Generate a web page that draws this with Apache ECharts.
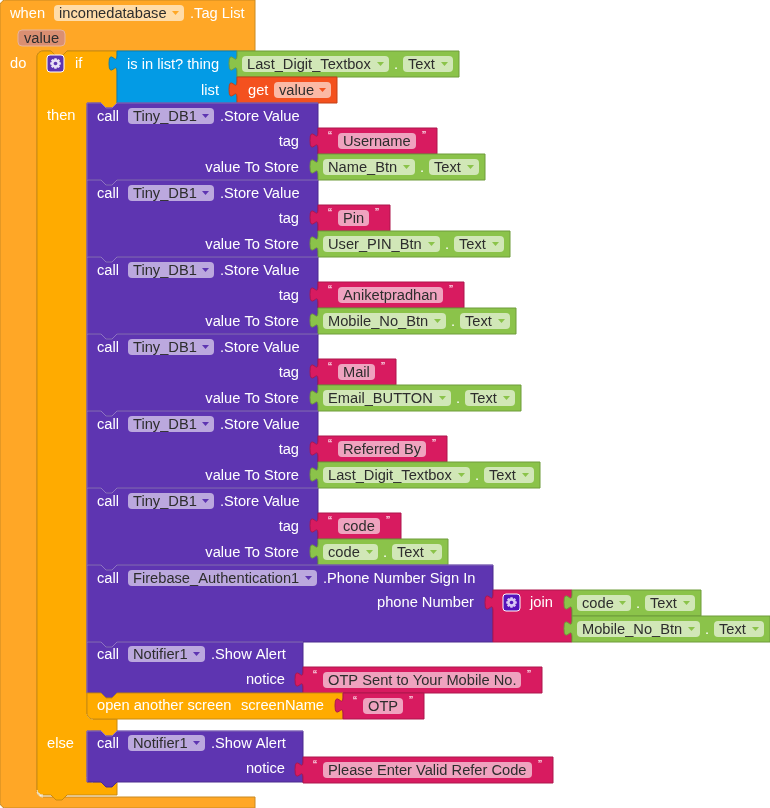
<!DOCTYPE html>
<html>
<head>
  <meta charset="utf-8">
  <title>Blocks</title>
  <style>
html, body { margin: 0; padding: 0; background: #fff; }
#main { width: 770px; height: 808px; }
  </style>
</head>
<body>
  <div id="main"></div>
  <script src="https://cdn.jsdelivr.net/npm/echarts@6/dist/echarts.min.js"></script>
  <script>
  // store value rows, top to bottom
  const storeTags = ['Username', 'Pin', 'Aniketpradhan', 'Mail', 'Referred By', 'code'];
  const storeTagEnds = [437, 390, 464, 396, 447, 401];
  const storeComponents = ['Name_Btn', 'User_PIN_Btn', 'Mobile_No_Btn', 'Email_BUTTON', 'Last_Digit_Textbox', 'code'];
  const storeComponentEnds = [485, 510, 516, 521, 540, 448];
  const storeTops = [103, 180, 257, 334, 411, 488];

  // the other blocks, as [left, top, right, bottom] on the workspace
  const firebaseBox = [87, 565, 493, 642];
  const joinBox = [493, 590, 572, 642];
  const alertBoxes = [[87, 642, 303, 693], [87, 731, 303, 782]];
  const alertTexts = ['OTP Sent to Your Mobile No.', 'Please Enter Valid Refer Code'];
  const alertTextEnds = [542, 553];
  const screenBox = [87, 693, 343, 719];
  const screenText = 'OTP';
  const screenTextEnd = 424;
  const joinParts = ['code', 'Mobile_No_Btn'];
  const joinPartEnds = [701, 770];

  const C = {
    event: '#ffa726', eventDark: '#c98a22', eventChip: '#ffdcA8',
    ctrl: '#ffab00', ctrlDark: '#c98a10', ctrlLight: '#ffd980',
    blue: '#039be5', blueDark: '#0780b8',
    green: '#8bc34a', greenDark: '#6f9c3b', greenChip: '#d1e7b7',
    pink: '#d81b60', pinkDark: '#ad164d', pinkChip: '#efa3bf',
    purple: '#5e35b1', purpleDark: '#4b2a8e', purpleLight: '#9f86d0', purpleChip: '#bba8de',
    get: '#f4511e', getDark: '#c34118', getChip: '#fbb9a5',
    param: '#da8f72', paramEdge: '#e8b49c', ink: '#2d2d2d', white: '#ffffff'
  };

  const marks = [];
  const poly = (points, fill, stroke) => marks.push({ t: 'poly', points, fill, stroke });
  const line = (points, stroke) => marks.push({ t: 'line', points, stroke });
  const box = (x0, y0, x1, y1, r, fill, stroke) => marks.push({ t: 'box', x0, y0, x1, y1, r, fill, stroke });
  const label = (text, x, y, fill, align, size) => marks.push({ t: 'text', text, x, y: y + 1, fill: fill || C.white, align: align || 'left', size: size || 14.67 });

  const arc = (cx, cy, r, a0, a1) => {
    const pts = [];
    for (let i = 0; i <= 6; i++) {
      const a = (a0 + (a1 - a0) * i / 6) * Math.PI / 180;
      pts.push([cx + r * Math.cos(a), cy + r * Math.sin(a)]);
    }
    return pts;
  };
  const bez = (p0, p1, p2, p3) => {
    const pts = [];
    for (let i = 1; i <= 8; i++) {
      const t = i / 8, u = 1 - t;
      pts.push([
        u * u * u * p0[0] + 3 * u * u * t * p1[0] + 3 * u * t * t * p2[0] + t * t * t * p3[0],
        u * u * u * p0[1] + 3 * u * u * t * p1[1] + 3 * u * t * t * p2[1] + t * t * t * p3[1]
      ]);
    }
    return pts;
  };
  // left side puzzle tab, walked from bottom to top
  const tabUp = (x, top) => {
    const y = top + 5;
    return [[x, y + 15]]
      .concat(bez([x, y + 15], [x, y + 5], [x - 8, y + 23], [x - 8, y + 7.5]))
      .concat(bez([x - 8, y + 7.5], [x - 8, y - 8], [x, y + 10], [x, y]));
  };
  const notch = (left, y) => [
    [left + 14, y], [left + 17, y + 3], [left + 19, y + 5], [left + 25, y + 5], [left + 27, y + 3], [left + 30, y]
  ];
  const notchBack = (left, y) => notch(left, y).reverse();

  const valueBlock = (l, t, r, b, fill, stroke) => {
    poly([[l, t], [r, t], [r, b], [l, b]].concat(tabUp(l, t)), fill, stroke);
  };
  const chip = (x0, x1, y, fill, text, arrow) => {
    box(x0, y, x1, y + 16, 4, fill);
    label(text, x0 + 5, y + 8, C.ink);
    if (arrow) {
      poly([[x1 - 12, y + 6], [x1 - 5, y + 6], [x1 - 8.5, y + 10]], arrow);
    }
  };
  const gear = (x, y, bg, fg) => {
    box(x, y, x + 17, y + 17, 3, bg, C.white);
    const cx = x + 8.5, cy = y + 8.5, pts = [];
    for (let i = 0; i < 8; i++) {
      const a = i * 45;
      pts.push(...arc(cx, cy, 5.4, a - 12, a + 12).filter((p, k) => k % 6 === 0));
      pts.push(...arc(cx, cy, 3.9, a + 24, a + 24).slice(0, 1));
    }
    poly(pts, fg);
    poly(arc(cx, cy, 1.8, 0, 180).concat(arc(cx, cy, 1.8, 180, 360)), bg);
  };
  const textBlock = (l, t, r, text) => {
    valueBlock(l, t, r, t + 26, C.pink, C.pinkDark);
    label('\u201c', l + 12, t + 8, C.white, 'center', 12);
    box(l + 20, t + 5, r - 21, t + 21, 4, C.pinkChip);
    label(text, l + 25, t + 13, C.ink);
    label('\u201d', r - 13, t + 8, C.white, 'center', 12);
  };
  const componentBlock = (l, t, r, name) => {
    valueBlock(l, t, r, t + 26, C.green, C.greenDark);
    chip(l + 5, r - 70, t + 5, C.greenChip, name, C.green);
    label('.', r - 63, t + 13, C.white, 'center');
    chip(r - 56, r - 6, t + 5, C.greenChip, 'Text', C.green);
  };
  const statement = (b, fill, stroke, light, dropTab) => {
    const [l, t, r, bot] = b;
    const pts = [[l, t]].concat(notch(l, t), [[r, t], [r, bot]]);
    if (dropTab) pts.push(...notchBack(l, bot));
    pts.push([l, bot]);
    poly(pts, fill, stroke);
    line([[l, bot], [l, t]].concat(notch(l, t), [[r, t]]), light);
  };

  // event block and the if block behind everything else
  poly(
    arc(6, 6, 6, 180, 270).concat(
      [[255, 0], [255, 51]],
      notchBack(37, 51),
      arc(43, 57, 6, 270, 180),
      arc(43, 791, 6, 180, 90),
      [[255, 797], [255, 808]],
      arc(6, 802, 6, 90, 180)
    ), C.event, C.eventDark);
  poly(
    arc(43, 57, 6, 180, 270).concat(
      notch(37, 51),
      [[117, 51], [117, 103]],
      notchBack(87, 103),
      arc(93, 109, 6, 270, 180),
      arc(93, 713, 6, 180, 90),
      [[117, 719], [117, 731]],
      notchBack(87, 731),
      arc(93, 737, 6, 270, 180),
      arc(93, 776, 6, 180, 90),
      [[117, 782], [117, 795]],
      notchBack(37, 795),
      arc(43, 789, 6, 90, 180)
    ), C.ctrl, C.ctrlDark);
  line(arc(93, 713, 6, 170, 90), C.white);
  line(arc(93, 776, 6, 170, 90), C.white);
  line(arc(43, 791, 6, 170, 90), C.white);
  line(arc(43, 789, 6, 170, 90), C.white);

  label('when', 10, 13);
  chip(54, 184, 5, C.eventChip, 'incomedatabase', C.event);
  label('.Tag List', 190, 13);
  box(18, 30, 65, 46, 4, C.param, C.paramEdge);
  label('value', 24, 38, C.ink);
  label('do', 10, 63);
  gear(47, 55, C.purple, '#e9e2f6');
  label('if', 75, 63);
  label('then', 47, 115);
  label('else', 47, 743);

  // if condition
  valueBlock(117, 51, 237, 103, C.blue, C.blueDark);
  label('is in list? thing', 127, 64);
  label('list', 219, 90, C.white, 'right');
  componentBlock(237, 51, 459, 'Last_Digit_Textbox');
  valueBlock(237, 77, 337, 103, C.get, C.getDark);
  label('get', 248, 90);
  chip(274, 331, 82, C.getChip, 'value', C.get);

  // last statement first so the drop tabs sit on the next block's notch
  statement(alertBoxes[1], C.purple, C.purpleDark, C.purpleLight, true);
  label('call', 97, 743);
  chip(128, 205, 735, C.purpleChip, 'Notifier1', C.purple);
  label('.Show Alert', 211, 743);
  label('notice', 285, 768, C.white, 'right');
  textBlock(303, 757, alertTextEnds[1], alertTexts[1]);

  storeTops.forEach((top, i) => {
    statement([87, top, 318, top + 77], C.purple, C.purpleDark, C.purpleLight, true);
    label('call', 97, top + 13);
    chip(128, 214, top + 5, C.purpleChip, 'Tiny_DB1', C.purple);
    label('.Store Value', 220, top + 13);
    label('tag', 299, top + 38, C.white, 'right');
    label('value To Store', 299, top + 64, C.white, 'right');
    textBlock(318, top + 25, storeTagEnds[i], storeTags[i]);
    componentBlock(318, top + 51, storeComponentEnds[i], storeComponents[i]);
  });

  statement(firebaseBox, C.purple, C.purpleDark, C.purpleLight, true);
  label('call', 97, 578);
  chip(128, 317, 570, C.purpleChip, 'Firebase_Authentication1', C.purple);
  label('.Phone Number Sign In', 323, 578);
  label('phone Number', 474, 602, C.white, 'right');
  valueBlock(joinBox[0], joinBox[1], joinBox[2], joinBox[3], C.pink, C.pinkDark);
  gear(503, 594, '#5412bb', '#d9c8f5');
  label('join', 530, 602);
  joinParts.forEach((part, i) => componentBlock(572, 590 + i * 26, joinPartEnds[i], part));

  statement(alertBoxes[0], C.purple, C.purpleDark, C.purpleLight, true);
  label('call', 97, 654);
  chip(128, 205, 646, C.purpleChip, 'Notifier1', C.purple);
  label('.Show Alert', 211, 654);
  label('notice', 285, 679, C.white, 'right');
  textBlock(303, 667, alertTextEnds[0], alertTexts[0]);

  poly(
    [[87, 693]].concat(
      notch(87, 693),
      [[343, 693], [343, 719], [93, 719]],
      arc(93, 713, 6, 90, 180)
    ), C.ctrl, C.ctrlDark);
  label('open another screen', 97, 705);
  label('screenName', 324, 705, C.white, 'right');
  textBlock(screenBox[2], screenBox[1], screenTextEnd, screenText);

  const renderItem = (params, api) => {
    const m = marks[api.value(0)];
    const at = p => api.coord(p);
    if (m.t === 'text') {
      const p = at([m.x, m.y]);
      return {
        type: 'text',
        style: {
          x: p[0], y: p[1], text: m.text, fill: m.fill,
          font: m.size + 'px "Liberation Sans", Arial, sans-serif',
          textAlign: m.align, textVerticalAlign: 'middle'
        }
      };
    }
    if (m.t === 'box') {
      const a = at([m.x0, m.y0]), b = at([m.x1, m.y1]);
      return {
        type: 'rect',
        shape: { x: a[0], y: a[1], width: b[0] - a[0], height: b[1] - a[1], r: m.r },
        style: { fill: m.fill, stroke: m.stroke || null, lineWidth: 1 }
      };
    }
    if (m.t === 'line') {
      return {
        type: 'polyline',
        shape: { points: m.points.map(at) },
        style: { fill: null, stroke: m.stroke, lineWidth: 1, opacity: 0.8 }
      };
    }
    return {
      type: 'polygon',
      shape: { points: m.points.map(at) },
      style: { fill: m.fill, stroke: m.stroke || null, lineWidth: 1 }
    };
  };

  const chart = echarts.init(document.getElementById('main'), null, { renderer: 'canvas' });
  chart.setOption({
    animation: false,
    backgroundColor: '#ffffff',
    grid: { left: 0, right: 0, top: 0, bottom: 0 },
    xAxis: { type: 'value', min: 0, max: 770, show: false },
    yAxis: { type: 'value', min: 0, max: 808, inverse: true, show: false },
    series: [{
      type: 'custom',
      coordinateSystem: 'cartesian2d',
      clip: false,
      silent: true,
      renderItem,
      data: marks.map((m, i) => [i]),
      encode: { x: 0 }
    }]
  });
  </script>
</body>
</html>
